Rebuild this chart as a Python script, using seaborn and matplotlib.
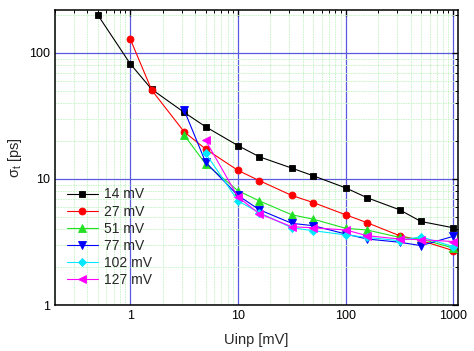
import numpy as np
import pandas as pd
import matplotlib
matplotlib.use("Agg")
import matplotlib.pyplot as plt
import matplotlib.ticker as mticker
import seaborn as sns

# ------------------------------------------------------------------
# DONNEES
# ------------------------------------------------------------------
uinp = [0.5, 1, 1.58, 3.16, 5, 10, 15.8, 31.6, 50, 100, 158, 316, 500, 1000]

sig_14 = [200, 82, 51.5, 33.8, 26.0, 18.4, 15.0, 12.2, 10.6, 8.5, 7.1, 5.7, 4.6, 4.1]
sig_27 = [129, 50.8, 23.7, 17.3, 11.7, 9.7, 7.4, 6.5, 5.2, 4.5, 3.55, 3.25, 2.7]
sig_51 = [22.3, 13.2, 8.07, 6.7, 5.2, 4.8, 4.06, 3.94, 3.44, 3.34, 2.83]
sig_77 = [35.3, 13.6, 7.4, 5.7, 4.45, 4.26, 3.66, 3.34, 3.15, 2.96, 3.51]
sig_102 = [16.0, 6.7, 5.4, 4.1, 3.89, 3.6, 3.44, 3.24, 3.48, 2.9]
sig_127 = [20.3, 7.2, 5.3, 4.18, 4.1, 3.94, 3.55, 3.34, 3.3, 3.19]

labels = ["14 mV", "27 mV", "51 mV", "77 mV", "102 mV", "127 mV"]
series = [sig_14, sig_27, sig_51, sig_77, sig_102, sig_127]
colors = ["black", "#ff0000", "#22e022", "#0000ff", "#00e8ff", "#ff00ff"]
markers = ["s", "o", "^", "v", "D", "<"]
msizes = [4.5, 5, 5.5, 5.5, 4.2, 5.5]

# ------------------------------------------------------------------
# FIGURE
# ------------------------------------------------------------------
sns.set_style("white")
plt.rcParams["font.family"] = ["Liberation Sans", "DejaVu Sans"]
plt.rcParams["mathtext.default"] = "regular"

fig = plt.figure(figsize=(4.74, 3.51), dpi=100)
ax = fig.add_axes([0.116, 0.131, 0.850, 0.841])

for lab, ys, col, mk, ms in zip(labels, series, colors, markers, msizes):
    xs = uinp[len(uinp) - len(ys):]
    df = pd.DataFrame({"x": xs, "y": ys})
    sns.lineplot(data=df, x="x", y="y", ax=ax, color=col, marker=mk,
                 markersize=ms, markeredgecolor=col, markeredgewidth=0.6,
                 linewidth=0.8, label=lab, zorder=3)

ax.set_xscale("log")
ax.set_yscale("log")
ax.set_xlim(0.2, 1100)
ax.set_ylim(1, 220)

fmt = mticker.FuncFormatter(lambda v, _: f"{v:g}")
ax.xaxis.set_major_formatter(fmt)
ax.yaxis.set_major_formatter(fmt)
ax.xaxis.set_minor_formatter(mticker.NullFormatter())
ax.yaxis.set_minor_formatter(mticker.NullFormatter())
ax.xaxis.set_minor_locator(mticker.LogLocator(base=10, subs=np.arange(2, 10), numticks=20))
ax.yaxis.set_minor_locator(mticker.LogLocator(base=10, subs=np.arange(2, 10), numticks=20))

# grilles
ax.grid(True, which="minor", color="#c4f4c4", linestyle=(0, (2, 1)), linewidth=0.6, zorder=0)
ax.grid(True, which="major", color="#5a5ae0", linestyle="-", linewidth=0.9, zorder=1)
ax.set_axisbelow(True)

ax.tick_params(which="both", direction="in", top=True, right=True,
               colors="black", labelsize=9)
ax.tick_params(which="major", length=4.5, width=0.9)
ax.tick_params(which="minor", length=2.5, width=0.7)
for sp in ax.spines.values():
    sp.set_color("black")
    sp.set_linewidth(1.1)

ax.set_xlabel("Uinp [mV]", fontsize=10.5, labelpad=8)
ax.set_ylabel("σ$_t$ [ps]", fontsize=10.5, labelpad=4)

ax.legend(loc="center left", bbox_to_anchor=(0.03, 0.23), frameon=False,
          fontsize=10, handlelength=2.2, handletextpad=0.45,
          labelspacing=0.22, borderpad=0, borderaxespad=0)

plt.savefig("out.png", dpi=100)
plt.close()
